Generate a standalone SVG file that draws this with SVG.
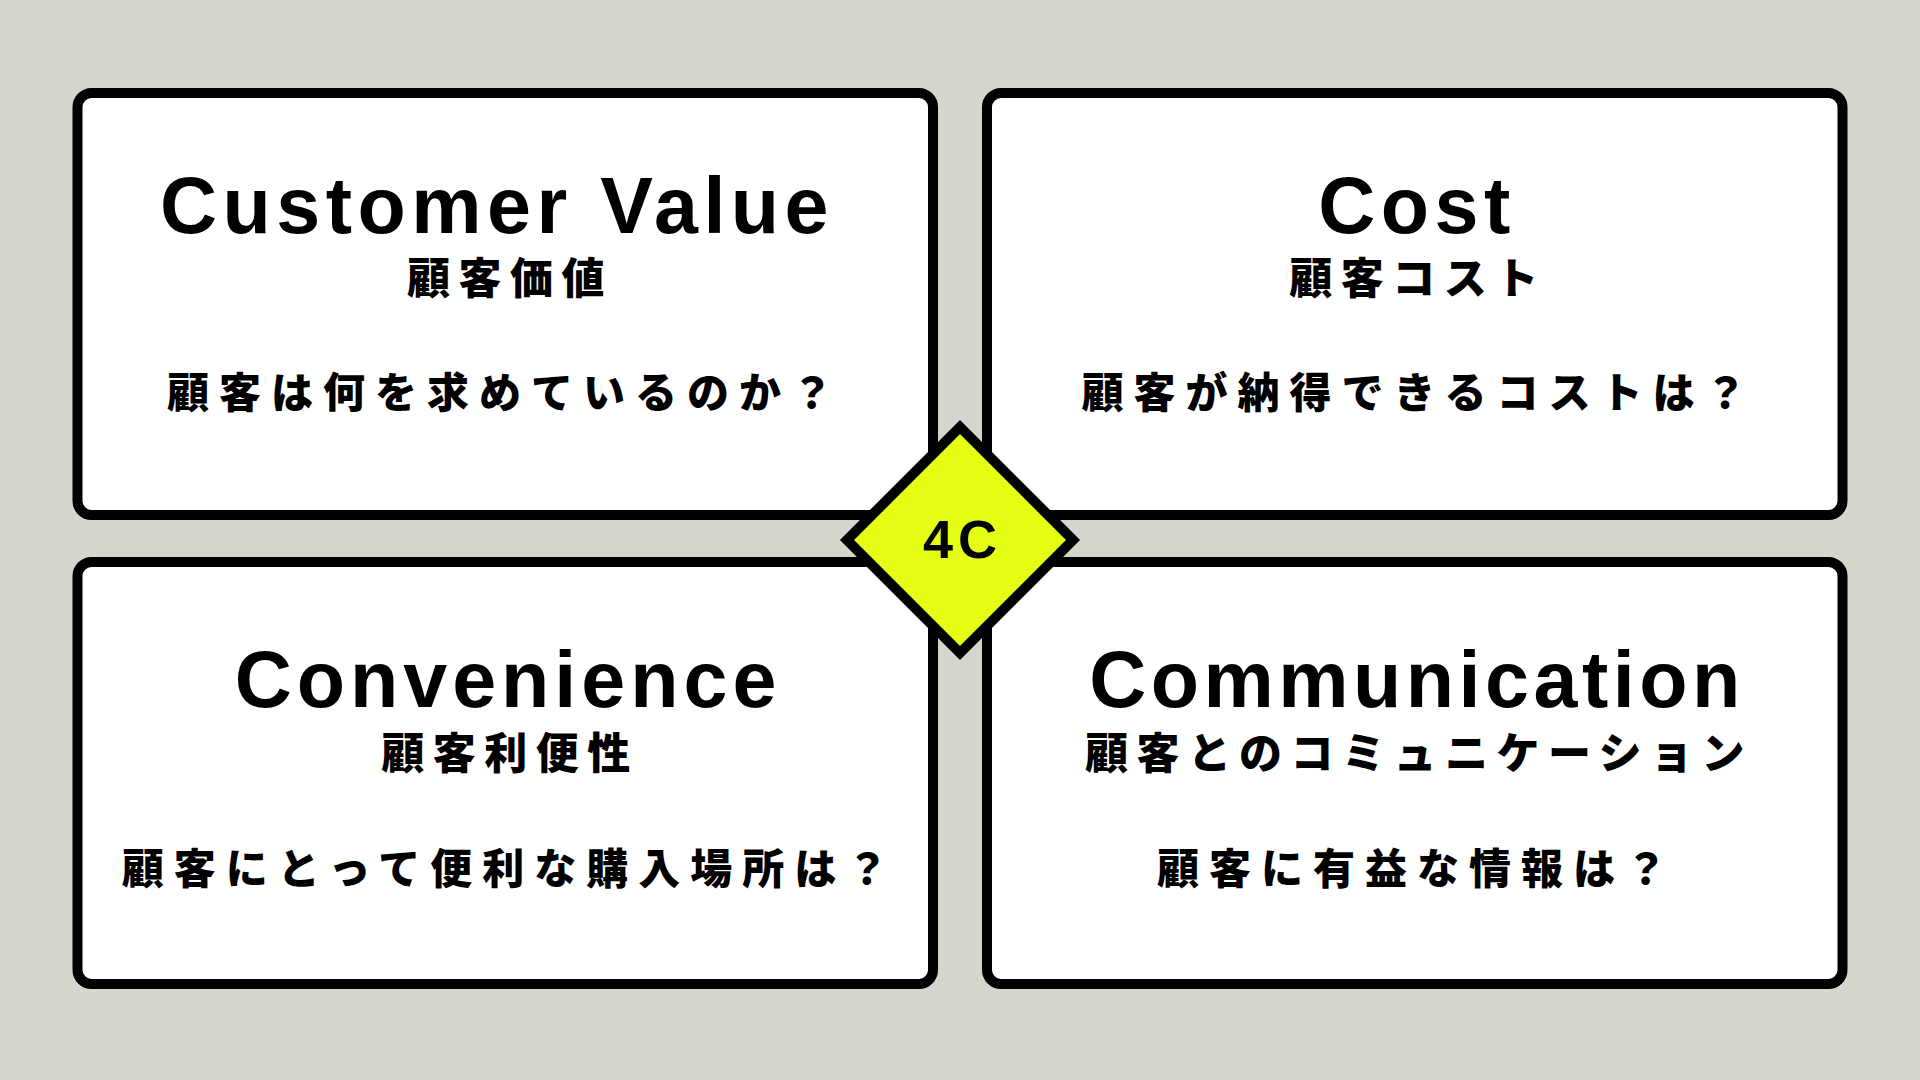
<svg xmlns="http://www.w3.org/2000/svg" width="1920" height="1080" viewBox="0 0 1920 1080">
  <style>
    .card { fill: #ffffff; stroke: #000000; stroke-width: 10; }
    .title { font-family: "Liberation Sans", Arial, sans-serif; font-weight: 700; font-size: 79px; letter-spacing: 5.5px; fill: #000; text-anchor: middle; }
    .sub { font-family: "Noto Sans CJK JP", "Noto Sans", sans-serif; font-weight: 900; font-size: 43px; letter-spacing: 8.5px; fill: #000; text-anchor: middle; }
    .q { font-family: "Noto Sans CJK JP", "Noto Sans", sans-serif; font-weight: 900; font-size: 42px; letter-spacing: 10px; fill: #000; text-anchor: middle; }
    .hub { fill: #e5ff14; stroke: #000000; stroke-width: 10; stroke-linejoin: miter; }
    .hubtext { font-family: "Liberation Sans", Arial, sans-serif; font-weight: 700; font-size: 54px; letter-spacing: 5px; fill: #000; text-anchor: middle; }
  </style>
  <rect x="0" y="0" width="1920" height="1080" fill="#d6d6cc"/>

  <g id="customer-value">
    <rect class="card" x="77.5" y="93" width="855.5" height="422" rx="14"/>
    <text class="title" x="497" y="232.5">Customer Value</text>
    <text class="sub" x="510" y="294">顧客価値</text>
    <text class="q" x="505" y="408">顧客は何を求めているのか？</text>
  </g>

  <g id="cost">
    <rect class="card" x="987" y="93" width="855.5" height="422" rx="14"/>
    <text class="title" x="1417" y="232.5">Cost</text>
    <text class="sub" x="1418" y="294">顧客コスト</text>
    <text class="q" x="1419" y="408">顧客が納得できるコストは？</text>
  </g>

  <g id="convenience">
    <rect class="card" x="77.5" y="562" width="855.5" height="422" rx="14"/>
    <text class="title" x="508" y="707" style="letter-spacing:5px">Convenience</text>
    <text class="sub" x="510" y="769">顧客利便性</text>
    <text class="q" x="510" y="884">顧客にとって便利な購入場所は？</text>
  </g>

  <g id="communication">
    <rect class="card" x="987" y="562" width="855.5" height="422" rx="14"/>
    <text class="title" x="1417" y="707" style="letter-spacing:4.5px">Communication</text>
    <text class="sub" x="1419" y="769">顧客とのコミュニケーション</text>
    <text class="q" x="1417" y="884">顧客に有益な情報は？</text>
  </g>

  <g id="connectors"></g>

  <g id="hub-4c">
    <polygon class="hub" points="960,427 1073,540 960,653 847,540"/>
    <text class="hubtext" x="962.5" y="558">4C</text>
  </g>
</svg>
